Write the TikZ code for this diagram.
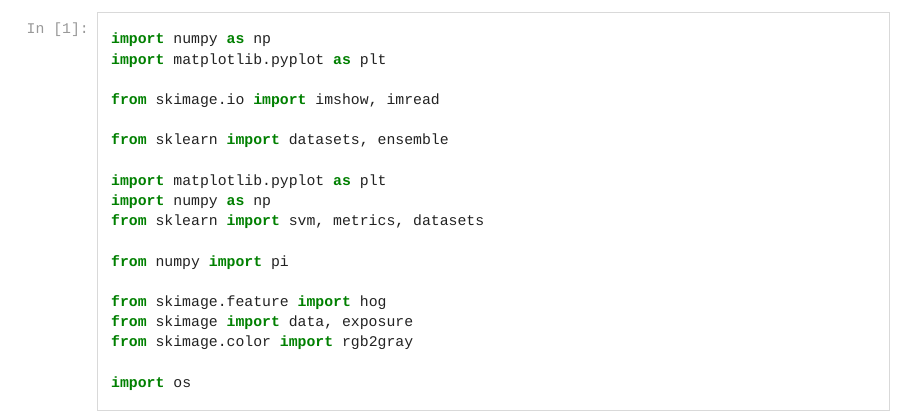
\documentclass[tikz,border=0pt]{standalone}
\usepackage{fontspec}
\setmonofont{Liberation Mono}
\setsansfont{Liberation Mono}
\definecolor{kwgreen}{HTML}{008000}
\definecolor{boxborder}{HTML}{D9D9D9}
\definecolor{boxfill}{HTML}{FFFFFF}
\definecolor{prompt}{HTML}{999999}
\definecolor{codetext}{HTML}{222222}
\newcommand\kwd[1]{\textcolor{kwgreen}{\bfseries #1}}
\tikzset{
  codeline/.style={anchor=west,inner sep=0pt,font=\fontsize{14.8}{20}\ttfamily,text=codetext},
  cellbox/.style={draw=boxborder,fill=boxfill,line width=1pt}
}
\begin{document}
\begin{tikzpicture}[x=1pt,y=1pt]
\useasboundingbox (0,0) rectangle (913,-420);
\fill[white] (0,0) rectangle (913,-420);
\node[cellbox,minimum width=792pt,minimum height=398pt,anchor=north west,inner sep=0pt] (cell) at (97,-12) {};
\node[codeline,anchor=east,text=prompt] (prompt) at (89,-30) {In [1]:};
\def\py{20.2}
\node[codeline] (l0) at (111,-40) {\kwd{import} numpy \kwd{as} np};
\node[codeline] (l1) at (111,-40-1*\py) {\kwd{import} matplotlib.pyplot \kwd{as} plt};
\node[codeline] (l3) at (111,-40-3*\py) {\kwd{from} skimage.io \kwd{import} imshow, imread};
\node[codeline] (l5) at (111,-40-5*\py) {\kwd{from} sklearn \kwd{import} datasets, ensemble};
\node[codeline] (l7) at (111,-40-7*\py) {\kwd{import} matplotlib.pyplot \kwd{as} plt};
\node[codeline] (l8) at (111,-40-8*\py) {\kwd{import} numpy \kwd{as} np};
\node[codeline] (l9) at (111,-40-9*\py) {\kwd{from} sklearn \kwd{import} svm, metrics, datasets};
\node[codeline] (l11) at (111,-40-11*\py) {\kwd{from} numpy \kwd{import} pi};
\node[codeline] (l13) at (111,-40-13*\py) {\kwd{from} skimage.feature \kwd{import} hog};
\node[codeline] (l14) at (111,-40-14*\py) {\kwd{from} skimage \kwd{import} data, exposure};
\node[codeline] (l15) at (111,-40-15*\py) {\kwd{from} skimage.color \kwd{import} rgb2gray};
\node[codeline] (l17) at (111,-40-17*\py) {\kwd{import} os};
\end{tikzpicture}
\end{document}
